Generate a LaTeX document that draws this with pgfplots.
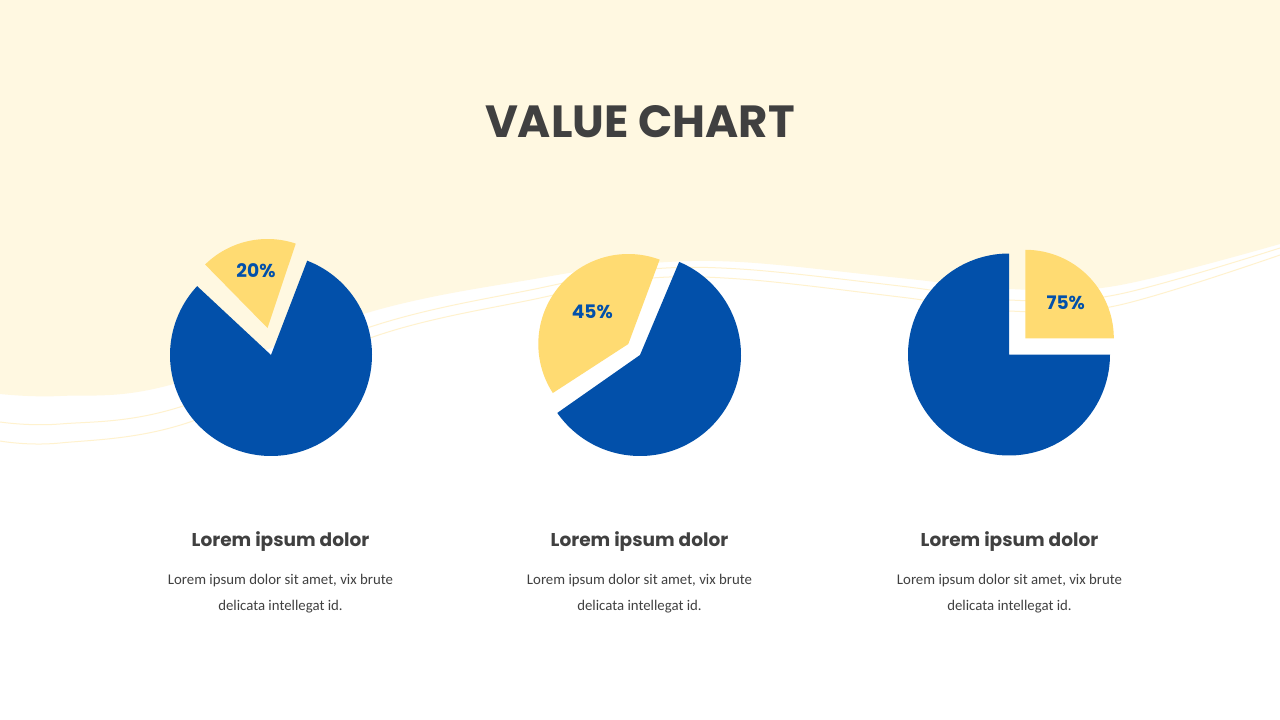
\documentclass[border=0pt]{standalone}
\usepackage{fontspec}
\setmainfont{Carlito}
\newfontfamily\poppins{Poppins}
\usepackage{pgfplots}
\pgfplotsset{compat=1.18}
\definecolor{cream}{HTML}{FFF8E1}
\definecolor{pieblue}{HTML}{0250AA}
\definecolor{pieyellow}{HTML}{FFDB72}
\definecolor{titlegray}{HTML}{404040}
\definecolor{bodygray}{HTML}{404040}
\definecolor{waveline}{HTML}{FFF2CE}
\begin{document}
\begin{tikzpicture}
\begin{axis}[
  width=960pt, height=540pt, scale only axis,
  xmin=0, xmax=1280, ymin=0, ymax=720, y dir=reverse,
  hide axis, clip=true]
% page background
\addplot[fill=white, draw=none] coordinates {(0,0) (1280,0) (1280,720) (0,720)} -- cycle;
% cream wave
\addplot[fill=cream, draw=none, smooth, tension=0.6] coordinates {
  (0,394) (60,396) (170,385) (370,312) (540,278) (640,264) (740,262)
  (900,278) (1009,289) (1115,286) (1280,244)}
  -- (axis cs:1280,0) -- (axis cs:0,0) -- cycle;
% thin wave lines
\addplot[draw=waveline, line width=0.75pt, smooth, tension=0.6] coordinates {
  (0,422) (60,424) (180,407) (370,327) (540,288) (640,270) (740,269)
  (900,286) (1009,300) (1115,295) (1280,248)};
\addplot[draw=waveline, line width=0.75pt, smooth, tension=0.6] coordinates {
  (0,441) (60,443) (190,422) (370,338) (540,298) (640,279) (740,279)
  (900,297) (1009,311) (1115,306) (1280,255)};
% ---- pie 1 (20%) ----
\addplot[fill=pieblue, draw=none, domain=137:429, samples=120, variable=\t]
  ({271+101*cos(t)}, {355-101*sin(t)}) -- (axis cs:271,355) -- cycle;
\addplot[fill=pieyellow, draw=none, domain=71.5:134.5, samples=60, variable=\t]
  ({267.5+89*cos(t)}, {328-89*sin(t)}) -- (axis cs:267.5,328) -- cycle;
% ---- pie 2 (45%) ----
\addplot[fill=pieblue, draw=none, domain=215:427.2, samples=120, variable=\t]
  ({640+101*cos(t)}, {355-101*sin(t)}) -- (axis cs:640,355) -- cycle;
\addplot[fill=pieyellow, draw=none, domain=69.6:213, samples=80, variable=\t]
  ({628.3+90*cos(t)}, {344-90*sin(t)}) -- (axis cs:628.3,344) -- cycle;
% ---- pie 3 (75%) ----
\addplot[fill=pieblue, draw=none, domain=90:360, samples=120, variable=\t]
  ({1009+101*cos(t)}, {354.5-101*sin(t)}) -- (axis cs:1009,354.5) -- cycle;
\addplot[fill=pieyellow, draw=none, domain=0:90, samples=60, variable=\t]
  ({1025.3+88.5*cos(t)}, {338.3-88.5*sin(t)}) -- (axis cs:1025.3,338.3) -- cycle;
% labels
\node[anchor=base, text=pieblue, font=\poppins\bfseries\fontsize{14}{16}\selectfont] at (axis cs:256,277.5) {20\%};
\node[anchor=base, text=pieblue, font=\poppins\bfseries\fontsize{14}{16}\selectfont] at (axis cs:592.3,318.5) {45\%};
\node[anchor=base, text=pieblue, font=\poppins\bfseries\fontsize{14}{16}\selectfont] at (axis cs:1065.7,309.5) {75\%};
% title
\node[anchor=base, text=titlegray, font=\poppins\bfseries\fontsize{33.8}{40}\selectfont] at (axis cs:640,138) {VALUE CHART};
% column texts
\node[anchor=base, text=titlegray, font=\poppins\bfseries\fontsize{13.9}{16}\selectfont] at (axis cs:280.5,546) {Lorem ipsum dolor};
\node[anchor=base, text=bodygray, font=\fontsize{11.1}{13}\selectfont] at (axis cs:280.5,584.3) {Lorem ipsum dolor sit amet, vix brute};
\node[anchor=base, text=bodygray, font=\fontsize{11.1}{13}\selectfont] at (axis cs:280.5,610.7) {delicata intellegat id.};
\node[anchor=base, text=titlegray, font=\poppins\bfseries\fontsize{13.9}{16}\selectfont] at (axis cs:639.5,546) {Lorem ipsum dolor};
\node[anchor=base, text=bodygray, font=\fontsize{11.1}{13}\selectfont] at (axis cs:639.5,584.3) {Lorem ipsum dolor sit amet, vix brute};
\node[anchor=base, text=bodygray, font=\fontsize{11.1}{13}\selectfont] at (axis cs:639.5,610.7) {delicata intellegat id.};
\node[anchor=base, text=titlegray, font=\poppins\bfseries\fontsize{13.9}{16}\selectfont] at (axis cs:1009.5,546) {Lorem ipsum dolor};
\node[anchor=base, text=bodygray, font=\fontsize{11.1}{13}\selectfont] at (axis cs:1009.5,584.3) {Lorem ipsum dolor sit amet, vix brute};
\node[anchor=base, text=bodygray, font=\fontsize{11.1}{13}\selectfont] at (axis cs:1009.5,610.7) {delicata intellegat id.};
\end{axis}
\end{tikzpicture}
\end{document}
